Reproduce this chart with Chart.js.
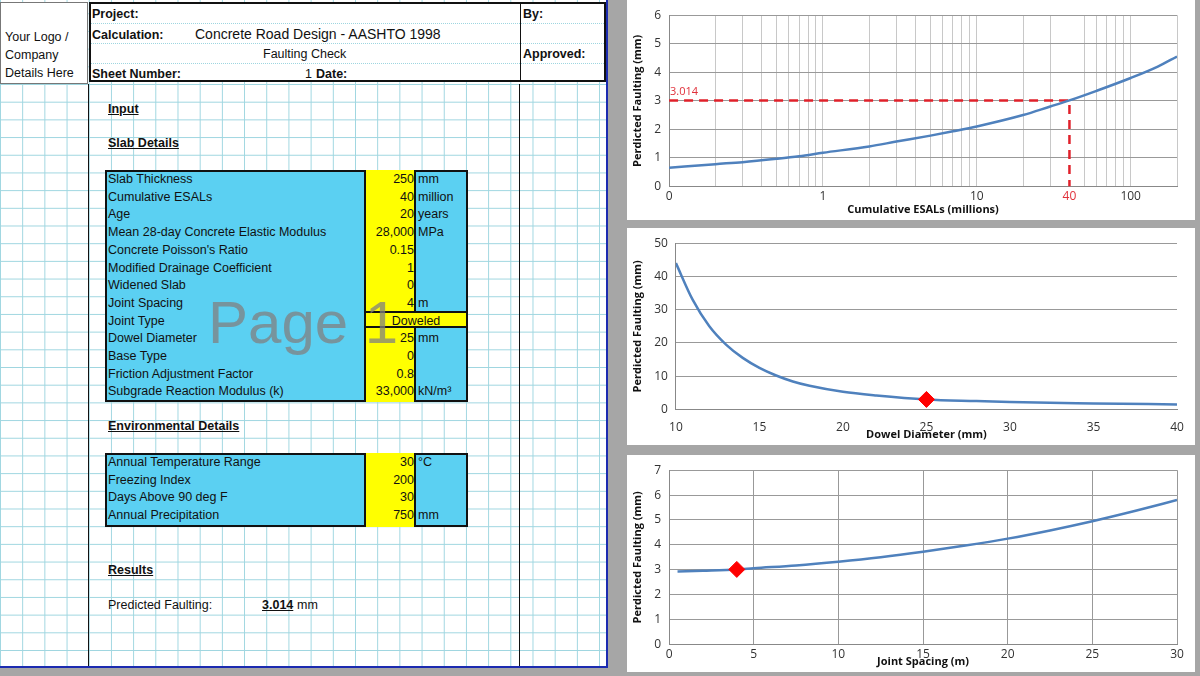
<!DOCTYPE html>
<html>
<head>
<meta charset="utf-8">
<script src="https://cdn.jsdelivr.net/npm/chart.js@4"></script>
<style>
  body { margin:0; width:1200px; height:676px; overflow:hidden; background:#a6a6a6; font-family:"Liberation Sans", Arial, sans-serif; }
  #sheet { position:absolute; left:0; top:0; width:606px; height:666px; background-color:#fff;
    background-image: linear-gradient(to right, #9fd6e0 1px, transparent 1px), linear-gradient(to bottom, #9fd6e0 1px, transparent 1px);
    background-size:22.2px 17.7px; background-position:0 84px;
    border-right:2px solid #1c2bb0; border-bottom:2px solid #1c2bb0; }
  .abs { position:absolute; font-size:12.5px; color:#111; white-space:nowrap; }
  .b { font-weight:bold; }
  .u { text-decoration:underline; font-weight:bold; }
  #hdr { position:absolute; left:89px; top:2px; width:517px; height:80px; background:#fff; border:2px solid #111; box-sizing:border-box; }
  #logo { position:absolute; left:0; top:2px; width:88px; height:82px; background:#fff; border:1px solid #777; box-sizing:border-box; }
  .box { position:absolute; background:#5bd0f2; border:2px solid #111; box-sizing:border-box; }
  .yel { position:absolute; background:#ffff00; border-left:2px solid #111; border-right:2px solid #111; box-sizing:border-box; }
  .row { position:absolute; font-size:12.5px; color:#111; height:17.7px; line-height:17.7px; }
  .chart { position:absolute; background:#fff; }
  #wm { position:absolute; left:208px; top:288px; font-size:60px; color:rgba(128,128,128,0.75); font-family:"Liberation Sans", Arial; }
</style>
</head>
<body>
<div id="sheet">
  <div id="logo"><div class="abs" style="left:4px;top:25px;line-height:18px;white-space:normal;font-size:12.5px">Your Logo /<br>Company<br>Details Here</div></div>
  <div id="hdr">
    <div style="position:absolute;left:0;top:19px;width:100%;border-top:1px dotted #9fd6e0"></div>
    <div style="position:absolute;left:0;top:39px;width:100%;border-top:1px dotted #9fd6e0"></div>
    <div style="position:absolute;left:0;top:59px;width:100%;border-top:1px dotted #9fd6e0"></div>
    <div style="position:absolute;left:429px;top:0;height:100%;border-left:1px solid #111"></div>
    <div class="abs b" style="left:1px;top:3px">Project:</div>
    <div class="abs b" style="left:1px;top:24px">Calculation:</div>
    <div class="abs" style="left:104px;top:22px;font-size:14px">Concrete Road Design - AASHTO 1998</div>
    <div class="abs" style="left:172px;top:43px">Faulting Check</div>
    <div class="abs b" style="left:1px;top:63px">Sheet Number:</div>
    <div class="abs" style="left:214px;top:63px">1</div>
    <div class="abs b" style="left:225px;top:63px">Date:</div>
    <div class="abs b" style="left:432px;top:3px">By:</div>
    <div class="abs b" style="left:432px;top:43px">Approved:</div>
  </div>
  <div style="position:absolute;left:88px;top:84px;height:582px;border-left:1px solid #111"></div>
  <div style="position:absolute;left:519px;top:84px;height:582px;border-left:1px solid #111"></div>

  <div class="abs u" style="left:108px;top:102px">Input</div>
  <div class="abs u" style="left:108px;top:136px">Slab Details</div>

  <div class="box" style="left:105px;top:170px;width:363px;height:232px"></div>
  <div class="yel" style="left:364px;top:170px;width:52px;height:232px"></div>
  <div style="position:absolute;left:364px;top:311px;width:104px;height:17px;background:#ffff00;border:2px solid #111;box-sizing:border-box"></div>
  <div id="rows1"></div>

  <div class="abs u" style="left:108px;top:419px">Environmental Details</div>
  <div class="box" style="left:105px;top:453px;width:363px;height:74px"></div>
  <div class="yel" style="left:364px;top:453px;width:52px;height:74px"></div>
  <div id="rows2"></div>

  <div class="abs u" style="left:108px;top:563px">Results</div>
  <div class="abs" style="left:108px;top:598px">Predicted Faulting:</div>
  <div class="abs u" style="left:262px;top:598px">3.014</div>
  <div class="abs" style="left:297px;top:598px">mm</div>
  <div id="wm">Page 1</div>
</div>

<div class="chart" style="left:627px;top:0;width:568px;height:220px"><canvas id="c1"></canvas></div>
<div class="chart" style="left:627px;top:228px;width:568px;height:217px"><canvas id="c2"></canvas></div>
<div class="chart" style="left:627px;top:455px;width:568px;height:217px"><canvas id="c3"></canvas></div>

<script>
// spreadsheet inputs
const slabLabels = ['Slab Thickness','Cumulative ESALs','Age','Mean 28-day Concrete Elastic Modulus',"Concrete Poisson's Ratio",
  'Modified Drainage Coefficient','Widened Slab','Joint Spacing','Joint Type','Dowel Diameter','Base Type',
  'Friction Adjustment Factor','Subgrade Reaction Modulus (k)'];
const slabValues = ['250','40','20','28,000','0.15','1','0','4','Doweled','25','0','0.8','33,000'];
const slabUnits = ['mm','million','years','MPa','','','','m','','mm','','','kN/m³'];
const envLabels = ['Annual Temperature Range','Freezing Index','Days Above 90 deg F','Annual Precipitation'];
const envValues = ['30','200','30','750'];
const envUnits = ['°C','','','mm'];

// chart 1: faulting vs cumulative ESALs (millions)
const esalX = [0.1, 0.2, 0.3, 0.5, 0.7, 1, 2, 3, 5, 7, 10, 20, 30, 40, 60, 100, 150, 200];
const esalY = [0.65, 0.78, 0.85, 0.97, 1.06, 1.18, 1.4, 1.57, 1.78, 1.93, 2.1, 2.5, 2.8, 3.014, 3.35, 3.8, 4.2, 4.55];
const esalTicks = [0.1, 1, 10, 100];
const esalGrid = [0.1, 0.2, 0.3, 0.4, 0.5, 0.6, 0.7, 0.8, 0.9, 1, 2, 3, 4, 5, 6, 7, 8, 9,
  10, 20, 30, 50, 60, 70, 80, 90, 100, 200];
const designEsal = 40, designFault = 3.014;

// chart 2: faulting vs dowel diameter (mm)
const dowelX = [10, 11, 12, 13, 14, 15, 16, 17, 18, 20, 22, 25, 28, 30, 35, 40];
const dowelY = [44, 33, 25, 19.5, 15.5, 12.5, 10.2, 8.4, 7.1, 5.3, 4.2, 3.0, 2.5, 2.2, 1.8, 1.5];
const designDowel = 25, dowelFault = 3.0;

// chart 3: faulting vs joint spacing (m)
const jointX = [0.5, 2, 4, 5, 7.5, 10, 12.5, 15, 17.5, 20, 22.5, 25, 27.5, 30];
const jointY = [2.93, 2.96, 3.01, 3.06, 3.17, 3.32, 3.5, 3.72, 3.97, 4.25, 4.58, 4.95, 5.36, 5.8];
const designJoint = 4;

function fillRows(id, top, labels, values, units) {
  const el = document.getElementById(id);
  labels.forEach((l, i) => {
    const y = top + i * 17.7;
    el.insertAdjacentHTML('beforeend',
      `<div class="row" style="left:108px;top:${y}px">${l}</div>` +
      (values[i] === 'Doweled'
        ? `<div class="row" style="left:366px;top:${y}px;width:100px;text-align:center">${values[i]}</div>`
        : `<div class="row" style="left:366px;top:${y}px;width:48px;text-align:right">${values[i]}</div>`) +
      `<div class="row" style="left:418px;top:${y}px">${units[i]}</div>`);
  });
}
fillRows('rows1', 171, slabLabels, slabValues, slabUnits);
fillRows('rows2', 454, envLabels, envValues, envUnits);

Chart.defaults.font.family = '"Open Sans", sans-serif';
Chart.defaults.color = '#333';
const blue = '#4f81bd';
const titleFont = { size: 11, weight: 'bold' };
const tickFont = { size: 12 };
const yTitle = { display: true, text: 'Perdicted Faulting (mm)', font: titleFont, color: '#111', padding: 2 };
const lineDs = (xs, ys) => ({ data: xs.map((x, i) => ({ x, y: ys[i] })), borderColor: blue, borderWidth: 2.5,
  pointRadius: 0, showLine: true, cubicInterpolationMode: 'monotone', fill: false, order: 2 });
const diamond = (x, y) => ({ data: [{ x, y }], pointStyle: 'rectRot', pointRadius: 8, backgroundColor: '#ff0000',
  borderColor: '#ff0000', showLine: false, order: 1 });
const baseOpts = { responsive: true, maintainAspectRatio: false, animation: false,
  plugins: { legend: { display: false }, tooltip: { enabled: false } } };

const labelPlugin = {
  id: 'designLabel',
  afterDraw(chart) {
    const { ctx, scales } = chart;
    ctx.save();
    ctx.fillStyle = '#e0303a';
    ctx.font = '11px "Open Sans"';
    ctx.fillText(designFault.toFixed(3), scales.x.getPixelForValue(0.1) + 1, scales.y.getPixelForValue(designFault) - 5);
    ctx.restore();
  }
};

new Chart(document.getElementById('c1'), {
  type: 'scatter',
  data: { datasets: [
    lineDs(esalX, esalY),
    { data: [{ x: 0.1, y: designFault }, { x: designEsal, y: designFault }, { x: designEsal, y: 0 }],
      borderColor: '#e0202a', borderWidth: 2.5, borderDash: [9, 6], pointRadius: 0, showLine: true, order: 3 }
  ] },
  options: { ...baseOpts, layout: { padding: { top: 4, right: 18, left: 2 } },
    scales: {
      x: { type: 'logarithmic', min: 0.1, max: 200,
        afterBuildTicks(s) {
          s.ticks = esalGrid.concat([designEsal]).sort((a, b) => a - b).map(v => ({ value: v }));
        },
        ticks: { autoSkip: false, maxRotation: 0, font: tickFont,
          callback: (v) => v === designEsal ? '40' : (esalTicks.includes(v) ? (v < 1 ? '0' : String(v)) : ''),
          color: (c) => c.tick.value === designEsal ? '#e0303a' : '#333' },
        grid: { color: (c) => c.tick && c.tick.value === designEsal ? 'rgba(0,0,0,0)' : '#c8c8c8', drawTicks: false },
        border: { color: '#888' },
        title: { display: true, text: 'Cumulative ESALs (millions)', font: titleFont, color: '#111', padding: { top: -4 } } },
      y: { min: 0, max: 6, ticks: { stepSize: 1, font: tickFont, padding: 8 }, grid: { color: '#999', drawTicks: false },
        border: { color: '#888' }, title: yTitle }
    } },
  plugins: [labelPlugin]
});

new Chart(document.getElementById('c2'), {
  type: 'scatter',
  data: { datasets: [lineDs(dowelX, dowelY), diamond(designDowel, dowelFault)] },
  options: { ...baseOpts, layout: { padding: { top: 6, right: 18, left: 2 } },
    scales: {
      x: { min: 10, max: 40, ticks: { stepSize: 5, font: tickFont }, grid: { display: false },
        border: { color: '#888' },
        title: { display: true, text: 'Dowel Diameter (mm)', font: titleFont, color: '#111', padding: { top: -10 } } },
      y: { min: 0, max: 50, ticks: { stepSize: 10, font: tickFont, padding: 8 }, grid: { color: '#999', drawTicks: false },
        border: { color: '#888' }, title: yTitle }
    } }
});

new Chart(document.getElementById('c3'), {
  type: 'scatter',
  data: { datasets: [lineDs(jointX, jointY), diamond(designJoint, designFault)] },
  options: { ...baseOpts, layout: { padding: { top: 6, right: 18, left: 2 } },
    scales: {
      x: { min: 0, max: 30, ticks: { stepSize: 5, font: tickFont }, grid: { color: '#999', drawTicks: false },
        border: { color: '#888' },
        title: { display: true, text: 'Joint Spacing (m)', font: titleFont, color: '#111', padding: { top: -10 } } },
      y: { min: 0, max: 7, ticks: { stepSize: 1, font: tickFont, padding: 8 }, grid: { color: '#999', drawTicks: false },
        border: { color: '#888' }, title: yTitle }
    } }
});
</script>
</body>
</html>
